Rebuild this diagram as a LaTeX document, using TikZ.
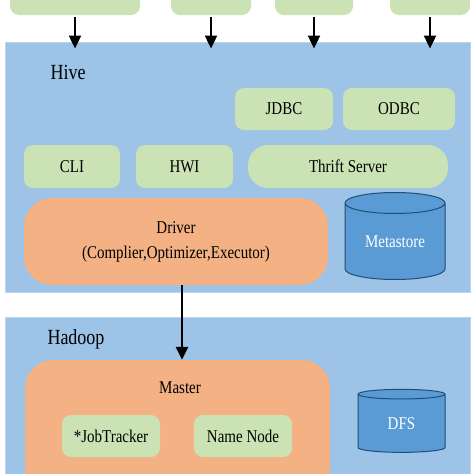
\documentclass[tikz,border=0pt]{standalone}
\usepackage{fontspec}
\setmainfont{Liberation Serif}
\usetikzlibrary{shapes.geometric, arrows.meta, positioning}
\definecolor{panelblue}{RGB}{157,195,230}
\definecolor{boxgreen}{RGB}{203,226,180}
\definecolor{boxorange}{RGB}{244,177,131}
\definecolor{dbblue}{RGB}{91,155,213}
\definecolor{dbline}{RGB}{31,78,121}
\newcommand{\tallt}[1]{\scalebox{1}[1.2]{#1}}
\tikzset{
  panel/.style={fill=panelblue, draw=panelblue!70!white, line width=1pt, inner sep=0pt},
  greenbox/.style={fill=boxgreen, rounded corners=9pt, inner sep=0pt, font=\fontsize{15}{18}\selectfont},
  orangebox/.style={fill=boxorange, rounded corners=28pt, inner sep=0pt, font=\fontsize{15}{18}\selectfont},
  db/.style={cylinder, shape border rotate=90, aspect=0.35, fill=dbblue, draw=dbline, line width=1pt,
    text=white, inner sep=0pt, font=\fontsize{15}{18}\selectfont},
  label/.style={font=\fontsize{18}{21}\selectfont, inner sep=0pt},
  arr/.style={line width=2.4pt, -{Triangle[length=13pt,width=12pt]}}
}
\begin{document}
\begin{tikzpicture}[x=1pt, y=-1pt]
  \clip (0,0) rectangle (474,474);

  % clients on top
  \node[greenbox, minimum width=130, minimum height=40] (mapred) at (75,-5) {};
  \node[greenbox, minimum width=80, minimum height=40] (web) at (211,-5) {};
  \node[greenbox, minimum width=78, minimum height=40] (query) at (314,-5) {};
  \node[greenbox, minimum width=80, minimum height=40] (other) at (430,-5) {};

  % Hive
  \node[panel, minimum width=465, minimum height=250] (hive) at (237.5,167) {};
  \node[label] (hivelabel) at (68,72) {\tallt{Hive}};
  \node[greenbox, minimum width=98, minimum height=42] (jdbc) at (284,109) {\tallt{JDBC}};
  \node[greenbox, minimum width=112, minimum height=42] (odbc) at (399,109) {\tallt{ODBC}};
  \node[greenbox, minimum width=96, minimum height=43] (cli) at (72,166.5) {\tallt{CLI}};
  \node[greenbox, minimum width=97, minimum height=43] (hwi) at (184.5,166.5) {\tallt{HWI}};
  \node[greenbox, rounded corners=20pt, minimum width=200, minimum height=43] (thrift) at (348,166.5) {\tallt{Thrift Server}};
  \node[orangebox, minimum width=304, minimum height=87, align=center] (driver) at (176,241.5)
    {\tallt{Driver}\\[7pt]\tallt{(Complier,Optimizer,Executor)}};
  \node[db, minimum width=100, minimum height=87] (metastore) at (395,241.5) {\tallt{Metastore}};

  % Hadoop
  \node[panel, minimum width=465, minimum height=180] (hadoop) at (237.5,407) {};
  \node[label] (hadooplabel) at (76,339) {\tallt{Hadoop}};
  \node[orangebox, minimum width=305, minimum height=140] (master) at (177.5,430) {};
  \node[font=\fontsize{15}{18}\selectfont, inner sep=0pt] (masterlabel) at (180,388) {\tallt{Master}};
  \node[greenbox, minimum width=98, minimum height=42] (jobtracker) at (111,436) {\tallt{*JobTracker}};
  \node[greenbox, minimum width=98, minimum height=42] (namenode) at (243,436) {\tallt{Name Node}};
  \node[db, minimum width=87, minimum height=63] (dfs) at (401.5,423.5) {\tallt{DFS}};

  % arrows
  \foreach \n in {mapred, web, query, other}
    \draw[arr] ([yshift=-2pt]\n.south) -- ([yshift=-7pt]\n.south |- hive.north);
  \draw[arr] ([xshift=6pt]driver.south) -- ([xshift=6pt]driver.south |- master.north);
\end{tikzpicture}
\end{document}
